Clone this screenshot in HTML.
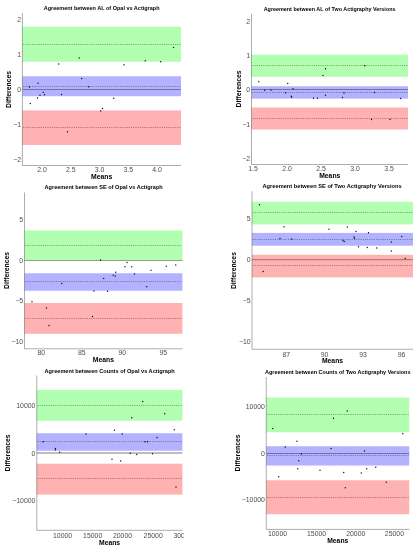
<!DOCTYPE html>
<html lang="en"><head><meta charset="utf-8"><title>Bland-Altman agreement plots</title>
<style>html,body{margin:0;padding:0;background:#fff}svg{display:block}text{font-family:"Liberation Sans",Arial,sans-serif}.t{font-weight:bold;fill:#000}.k{fill:#4d4d4d}</style></head><body>
<svg width="417" height="550" viewBox="0 0 417 550">
<rect width="417" height="550" fill="#fff"/>
<g id="plot1">
<rect x="22.4" y="26.75" width="158.6" height="35.0" fill="#b2ffb2"/>
<rect x="22.4" y="76.25" width="158.6" height="20.0" fill="#b2b2ff"/>
<rect x="22.4" y="110.4" width="158.6" height="34.599999999999994" fill="#ffb2b2"/>
<line x1="22.4" y1="89.5" x2="181" y2="89.5" stroke="#000" stroke-opacity="0.6" stroke-width="0.6"/>
<line x1="23.2" y1="44.5" x2="180.4" y2="44.5" stroke="#000" stroke-opacity="0.7" stroke-width="0.5" stroke-dasharray="1.1 1.1"/>
<line x1="23.2" y1="86.5" x2="180.4" y2="86.5" stroke="#000" stroke-opacity="0.7" stroke-width="0.5" stroke-dasharray="1.1 1.1"/>
<line x1="23.2" y1="127.5" x2="180.4" y2="127.5" stroke="#000" stroke-opacity="0.7" stroke-width="0.5" stroke-dasharray="1.1 1.1"/>
<path d="M22.4 13V165.5H181" fill="none" stroke="#333" stroke-opacity="0.8" stroke-width="0.5"/>
<circle cx="29.5" cy="87" r="0.65" fill="#000"/><circle cx="38" cy="83.25" r="0.65" fill="#000"/><circle cx="30.25" cy="103.5" r="0.65" fill="#000"/><circle cx="37.5" cy="98" r="0.65" fill="#000"/><circle cx="40" cy="95.25" r="0.65" fill="#000"/><circle cx="43.25" cy="92.25" r="0.65" fill="#000"/><circle cx="44.5" cy="94.75" r="0.65" fill="#000"/><circle cx="61.5" cy="94.5" r="0.65" fill="#000"/><circle cx="58.75" cy="64" r="0.65" fill="#000"/><circle cx="79.25" cy="58" r="0.65" fill="#000"/><circle cx="81.75" cy="78.5" r="0.65" fill="#000"/><circle cx="88.75" cy="86.75" r="0.65" fill="#000"/><circle cx="67.5" cy="131.75" r="0.65" fill="#000"/><circle cx="100.75" cy="111" r="0.65" fill="#000"/><circle cx="102.5" cy="108.5" r="0.65" fill="#000"/><circle cx="124" cy="64.75" r="0.65" fill="#000"/><circle cx="145.25" cy="60.75" r="0.65" fill="#000"/><circle cx="160.75" cy="61.75" r="0.65" fill="#000"/><circle cx="173.5" cy="47.5" r="0.65" fill="#000"/><circle cx="113.75" cy="98.25" r="0.65" fill="#000"/>
<text class="t" x="43.75" y="9.93" font-size="5.5" textLength="115.75" lengthAdjust="spacingAndGlyphs">Agreement between AL of Opal vs Actigraph</text>
<text class="k" x="21.099999999999998" y="22.48" font-size="6.9" text-anchor="end">2</text>
<text class="k" x="21.099999999999998" y="57.28" font-size="6.9" text-anchor="end">1</text>
<text class="k" x="21.099999999999998" y="92.08" font-size="6.9" text-anchor="end">0</text>
<text class="k" x="21.099999999999998" y="126.88" font-size="6.9" text-anchor="end">−1</text>
<text class="k" x="21.099999999999998" y="161.68" font-size="6.9" text-anchor="end">−2</text>
<text class="k" x="42" y="172.08" font-size="6.9" text-anchor="middle">2.0</text>
<text class="k" x="70.75" y="172.08" font-size="6.9" text-anchor="middle">2.5</text>
<text class="k" x="99.5" y="172.08" font-size="6.9" text-anchor="middle">3.0</text>
<text class="k" x="128.25" y="172.08" font-size="6.9" text-anchor="middle">3.5</text>
<text class="k" x="157" y="172.08" font-size="6.9" text-anchor="middle">4.0</text>
<text class="t" x="101.70" y="179.05" font-size="6.8" text-anchor="middle">Means</text>
<text class="t" transform="translate(11.15 89.5) rotate(-90)" font-size="6.8" text-anchor="middle">Differences</text>
</g>
<g id="plot2">
<rect x="251.5" y="54.6" width="156.5" height="22.199999999999996" fill="#b2ffb2"/>
<rect x="251.5" y="86.25" width="156.5" height="12.349999999999994" fill="#b2b2ff"/>
<rect x="251.5" y="107.5" width="156.5" height="22.0" fill="#ffb2b2"/>
<line x1="251.5" y1="89.5" x2="408" y2="89.5" stroke="#000" stroke-opacity="0.6" stroke-width="0.6"/>
<line x1="252.3" y1="65.5" x2="407.4" y2="65.5" stroke="#000" stroke-opacity="0.7" stroke-width="0.5" stroke-dasharray="1.1 1.1"/>
<line x1="252.3" y1="92.5" x2="407.4" y2="92.5" stroke="#000" stroke-opacity="0.7" stroke-width="0.5" stroke-dasharray="1.1 1.1"/>
<line x1="252.3" y1="118.5" x2="407.4" y2="118.5" stroke="#000" stroke-opacity="0.7" stroke-width="0.5" stroke-dasharray="1.1 1.1"/>
<path d="M251.5 13.75V164.5H408" fill="none" stroke="#333" stroke-opacity="0.8" stroke-width="0.5"/>
<circle cx="258.75" cy="81.75" r="0.65" fill="#000"/><circle cx="264.75" cy="90.25" r="0.65" fill="#000"/><circle cx="271" cy="90" r="0.65" fill="#000"/><circle cx="285.5" cy="92.75" r="0.65" fill="#000"/><circle cx="287.75" cy="83.5" r="0.65" fill="#000"/><circle cx="293" cy="88.75" r="0.65" fill="#000"/><circle cx="291.25" cy="96.25" r="0.65" fill="#000"/><circle cx="291.75" cy="97.25" r="0.65" fill="#000"/><circle cx="313.5" cy="98.25" r="0.65" fill="#000"/><circle cx="317.5" cy="98.25" r="0.65" fill="#000"/><circle cx="323" cy="75.5" r="0.65" fill="#000"/><circle cx="325.5" cy="68.75" r="0.65" fill="#000"/><circle cx="325.5" cy="95.25" r="0.65" fill="#000"/><circle cx="342.5" cy="97.5" r="0.65" fill="#000"/><circle cx="344" cy="93" r="0.65" fill="#000"/><circle cx="364.75" cy="65.75" r="0.65" fill="#000"/><circle cx="374.5" cy="92.5" r="0.65" fill="#000"/><circle cx="400.75" cy="98.5" r="0.65" fill="#000"/><circle cx="371.5" cy="119.5" r="0.65" fill="#000"/><circle cx="390" cy="119.5" r="0.65" fill="#000"/>
<text class="t" x="263.7" y="11.48" font-size="5.5" textLength="131.8" lengthAdjust="spacingAndGlyphs">Agreement between AL of Two Actigraphy Versions</text>
<text class="k" x="250.2" y="23.63" font-size="6.9" text-anchor="end">2</text>
<text class="k" x="250.2" y="57.93" font-size="6.9" text-anchor="end">1</text>
<text class="k" x="250.2" y="92.23" font-size="6.9" text-anchor="end">0</text>
<text class="k" x="250.2" y="126.53" font-size="6.9" text-anchor="end">−1</text>
<text class="k" x="250.2" y="160.83" font-size="6.9" text-anchor="end">−2</text>
<text class="k" x="253" y="170.68" font-size="6.9" text-anchor="middle">1.5</text>
<text class="k" x="287" y="170.68" font-size="6.9" text-anchor="middle">2.0</text>
<text class="k" x="321" y="170.68" font-size="6.9" text-anchor="middle">2.5</text>
<text class="k" x="355" y="170.68" font-size="6.9" text-anchor="middle">3.0</text>
<text class="k" x="389" y="170.68" font-size="6.9" text-anchor="middle">3.5</text>
<text class="t" x="329.75" y="178.10" font-size="6.8" text-anchor="middle">Means</text>
<text class="t" transform="translate(241.05 89) rotate(-90)" font-size="6.8" text-anchor="middle">Differences</text>
</g>
<g id="plot3">
<rect x="24.5" y="230.5" width="157.9" height="30.0" fill="#b2ffb2"/>
<rect x="24.5" y="273.25" width="157.9" height="17.5" fill="#b2b2ff"/>
<rect x="24.5" y="303" width="157.9" height="30.80000000000001" fill="#ffb2b2"/>
<line x1="24.5" y1="260.5" x2="182.4" y2="260.5" stroke="#000" stroke-opacity="0.6" stroke-width="0.6"/>
<line x1="25.3" y1="245.5" x2="181.8" y2="245.5" stroke="#000" stroke-opacity="0.7" stroke-width="0.5" stroke-dasharray="1.1 1.1"/>
<line x1="25.3" y1="281.5" x2="181.8" y2="281.5" stroke="#000" stroke-opacity="0.7" stroke-width="0.5" stroke-dasharray="1.1 1.1"/>
<line x1="25.3" y1="318.5" x2="181.8" y2="318.5" stroke="#000" stroke-opacity="0.7" stroke-width="0.5" stroke-dasharray="1.1 1.1"/>
<path d="M24.5 192.5V348.8H182.4" fill="none" stroke="#333" stroke-opacity="0.8" stroke-width="0.5"/>
<circle cx="32" cy="301.75" r="0.65" fill="#000"/><circle cx="46.5" cy="308" r="0.65" fill="#000"/><circle cx="49" cy="325.5" r="0.65" fill="#000"/><circle cx="61.75" cy="283.5" r="0.65" fill="#000"/><circle cx="92.5" cy="316.5" r="0.65" fill="#000"/><circle cx="94" cy="291" r="0.65" fill="#000"/><circle cx="103.75" cy="278.5" r="0.65" fill="#000"/><circle cx="100.5" cy="260" r="0.65" fill="#000"/><circle cx="127" cy="262.5" r="0.65" fill="#000"/><circle cx="125" cy="266.75" r="0.65" fill="#000"/><circle cx="131.75" cy="266.75" r="0.65" fill="#000"/><circle cx="115.75" cy="272.25" r="0.65" fill="#000"/><circle cx="113.25" cy="275.25" r="0.65" fill="#000"/><circle cx="115.25" cy="276" r="0.65" fill="#000"/><circle cx="134.5" cy="274" r="0.65" fill="#000"/><circle cx="151" cy="270.25" r="0.65" fill="#000"/><circle cx="166.25" cy="266.25" r="0.65" fill="#000"/><circle cx="175.75" cy="265" r="0.65" fill="#000"/><circle cx="146.75" cy="286.75" r="0.65" fill="#000"/><circle cx="107.5" cy="291.25" r="0.65" fill="#000"/>
<text class="t" x="44.5" y="189.48" font-size="5.5" textLength="118.25" lengthAdjust="spacingAndGlyphs">Agreement between SE of Opal vs Actigraph</text>
<text class="k" x="23.2" y="222.18" font-size="6.9" text-anchor="end">5</text>
<text class="k" x="23.2" y="262.78" font-size="6.9" text-anchor="end">0</text>
<text class="k" x="23.2" y="303.38" font-size="6.9" text-anchor="end">−5</text>
<text class="k" x="23.2" y="343.98" font-size="6.9" text-anchor="end">−10</text>
<text class="k" x="41.25" y="355.13" font-size="6.9" text-anchor="middle">80</text>
<text class="k" x="81.75" y="355.13" font-size="6.9" text-anchor="middle">85</text>
<text class="k" x="122.25" y="355.13" font-size="6.9" text-anchor="middle">90</text>
<text class="k" x="163.25" y="355.13" font-size="6.9" text-anchor="middle">95</text>
<text class="t" x="103.45" y="362.35" font-size="6.8" text-anchor="middle">Means</text>
<text class="t" transform="translate(9.35 270.4) rotate(-90)" font-size="6.8" text-anchor="middle">Differences</text>
</g>
<g id="plot4">
<rect x="252" y="201.75" width="161" height="22.650000000000006" fill="#b2ffb2"/>
<rect x="252" y="232.9" width="161" height="12.849999999999994" fill="#b2b2ff"/>
<rect x="252" y="254.8" width="161" height="22.599999999999966" fill="#ffb2b2"/>
<line x1="252" y1="259.6" x2="413" y2="259.6" stroke="#000" stroke-opacity="0.3" stroke-width="1.3"/>
<line x1="252.8" y1="212.5" x2="412.4" y2="212.5" stroke="#000" stroke-opacity="0.7" stroke-width="0.5" stroke-dasharray="1.1 1.1"/>
<line x1="252.8" y1="239.5" x2="412.4" y2="239.5" stroke="#000" stroke-opacity="0.7" stroke-width="0.5" stroke-dasharray="1.1 1.1"/>
<line x1="252.8" y1="265.5" x2="412.4" y2="265.5" stroke="#000" stroke-opacity="0.7" stroke-width="0.5" stroke-dasharray="1.1 1.1"/>
<path d="M252 191.25V349.25H413" fill="none" stroke="#333" stroke-opacity="0.8" stroke-width="0.5"/>
<circle cx="259.5" cy="204.75" r="0.65" fill="#000"/><circle cx="284" cy="226.75" r="0.65" fill="#000"/><circle cx="280" cy="238.5" r="0.65" fill="#000"/><circle cx="291.75" cy="239" r="0.65" fill="#000"/><circle cx="263.25" cy="271.5" r="0.65" fill="#000"/><circle cx="329" cy="229.25" r="0.65" fill="#000"/><circle cx="347.25" cy="227" r="0.65" fill="#000"/><circle cx="356" cy="231.5" r="0.65" fill="#000"/><circle cx="368.5" cy="232.75" r="0.65" fill="#000"/><circle cx="354" cy="237" r="0.65" fill="#000"/><circle cx="354.5" cy="238.25" r="0.65" fill="#000"/><circle cx="343" cy="240.5" r="0.65" fill="#000"/><circle cx="344.25" cy="241.5" r="0.65" fill="#000"/><circle cx="401.75" cy="236.5" r="0.65" fill="#000"/><circle cx="391.25" cy="242" r="0.65" fill="#000"/><circle cx="358.5" cy="246.75" r="0.65" fill="#000"/><circle cx="367.25" cy="247.5" r="0.65" fill="#000"/><circle cx="376.75" cy="248" r="0.65" fill="#000"/><circle cx="391.25" cy="251" r="0.65" fill="#000"/><circle cx="405.25" cy="258.5" r="0.65" fill="#000"/>
<text class="t" x="262.5" y="187.98" font-size="5.5" textLength="139.25" lengthAdjust="spacingAndGlyphs">Agreement between SE of Two Actigraphy Versions</text>
<text class="k" x="250.7" y="221.43" font-size="6.9" text-anchor="end">5</text>
<text class="k" x="250.7" y="262.43" font-size="6.9" text-anchor="end">0</text>
<text class="k" x="250.7" y="303.43" font-size="6.9" text-anchor="end">−5</text>
<text class="k" x="250.7" y="344.43" font-size="6.9" text-anchor="end">−10</text>
<text class="k" x="286.25" y="356.78" font-size="6.9" text-anchor="middle">87</text>
<text class="k" x="324.5" y="356.78" font-size="6.9" text-anchor="middle">90</text>
<text class="k" x="363" y="356.78" font-size="6.9" text-anchor="middle">93</text>
<text class="k" x="401.5" y="356.78" font-size="6.9" text-anchor="middle">96</text>
<text class="t" x="332.50" y="363.45" font-size="6.8" text-anchor="middle">Means</text>
<text class="t" transform="translate(236.20 270.6) rotate(-90)" font-size="6.8" text-anchor="middle">Differences</text>
</g>
<g id="plot5">
<rect x="36.75" y="389.9" width="145.65" height="30.850000000000023" fill="#b2ffb2"/>
<rect x="36.75" y="433.25" width="145.65" height="17.5" fill="#b2b2ff"/>
<rect x="36.75" y="463.7" width="145.65" height="30.900000000000034" fill="#ffb2b2"/>
<line x1="36.75" y1="453.0" x2="182.4" y2="453.0" stroke="#000" stroke-opacity="0.35" stroke-width="1.4"/>
<line x1="37.55" y1="405.5" x2="181.8" y2="405.5" stroke="#000" stroke-opacity="0.7" stroke-width="0.5" stroke-dasharray="1.1 1.1"/>
<line x1="37.55" y1="441.5" x2="181.8" y2="441.5" stroke="#000" stroke-opacity="0.7" stroke-width="0.5" stroke-dasharray="1.1 1.1"/>
<line x1="37.55" y1="478.5" x2="181.8" y2="478.5" stroke="#000" stroke-opacity="0.7" stroke-width="0.5" stroke-dasharray="1.1 1.1"/>
<path d="M36.75 375.5V530.3H182.4" fill="none" stroke="#333" stroke-opacity="0.8" stroke-width="0.5"/>
<circle cx="43.25" cy="441.75" r="0.65" fill="#000"/><circle cx="55.5" cy="448.5" r="0.65" fill="#000"/><circle cx="55.25" cy="450" r="0.65" fill="#000"/><circle cx="59.75" cy="452.25" r="0.65" fill="#000"/><circle cx="86" cy="434" r="0.65" fill="#000"/><circle cx="142.75" cy="401.5" r="0.65" fill="#000"/><circle cx="131.75" cy="417.75" r="0.65" fill="#000"/><circle cx="164.75" cy="413.75" r="0.65" fill="#000"/><circle cx="114.5" cy="430.25" r="0.65" fill="#000"/><circle cx="174.25" cy="429.75" r="0.65" fill="#000"/><circle cx="122.25" cy="434" r="0.65" fill="#000"/><circle cx="157" cy="437.5" r="0.65" fill="#000"/><circle cx="145" cy="441.75" r="0.65" fill="#000"/><circle cx="147.5" cy="441.75" r="0.65" fill="#000"/><circle cx="130.25" cy="453.25" r="0.65" fill="#000"/><circle cx="136.75" cy="454.5" r="0.65" fill="#000"/><circle cx="152.5" cy="453.75" r="0.65" fill="#000"/><circle cx="112" cy="459.25" r="0.65" fill="#000"/><circle cx="120.75" cy="461" r="0.65" fill="#000"/><circle cx="176" cy="487" r="0.65" fill="#000"/>
<text class="t" x="44.5" y="373.08" font-size="5.5" textLength="130.25" lengthAdjust="spacingAndGlyphs">Agreement between Counts of Opal vs Actigraph</text>
<text class="k" x="35.45" y="407.73" font-size="6.9" text-anchor="end">10000</text>
<text class="k" x="35.45" y="455.83" font-size="6.9" text-anchor="end">0</text>
<text class="k" x="35.45" y="502.93" font-size="6.9" text-anchor="end">−10000</text>
<clipPath id="c4"><rect x="0" y="0" width="183.75" height="550"/></clipPath><g clip-path="url(#c4)">
<text class="k" x="62.6" y="538.18" font-size="6.9" text-anchor="middle">10000</text>
<text class="k" x="92.7" y="538.18" font-size="6.9" text-anchor="middle">15000</text>
<text class="k" x="122.5" y="538.18" font-size="6.9" text-anchor="middle">20000</text>
<text class="k" x="153.2" y="538.18" font-size="6.9" text-anchor="middle">25000</text>
<text class="k" x="183.0" y="538.18" font-size="6.9" text-anchor="middle">30000</text>
</g>
<text class="t" x="109.58" y="544.65" font-size="6.8" text-anchor="middle">Means</text>
<text class="t" transform="translate(9.95 453) rotate(-90)" font-size="6.8" text-anchor="middle">Differences</text>
</g>
<g id="plot6">
<rect x="266.25" y="397.5" width="143.0" height="34.75" fill="#b2ffb2"/>
<rect x="266.25" y="446.25" width="143.0" height="19.25" fill="#b2b2ff"/>
<rect x="266.25" y="480.25" width="143.0" height="34.0" fill="#ffb2b2"/>
<line x1="266.25" y1="453.5" x2="409.25" y2="453.5" stroke="#000" stroke-opacity="0.6" stroke-width="0.6"/>
<line x1="267.05" y1="414.5" x2="408.65" y2="414.5" stroke="#000" stroke-opacity="0.7" stroke-width="0.5" stroke-dasharray="1.1 1.1"/>
<line x1="267.05" y1="455.5" x2="408.65" y2="455.5" stroke="#000" stroke-opacity="0.7" stroke-width="0.5" stroke-dasharray="1.1 1.1"/>
<line x1="267.05" y1="497.5" x2="408.65" y2="497.5" stroke="#000" stroke-opacity="0.7" stroke-width="0.5" stroke-dasharray="1.1 1.1"/>
<path d="M266.25 377V529.4H409.25" fill="none" stroke="#333" stroke-opacity="0.8" stroke-width="0.5"/>
<circle cx="272.75" cy="428.5" r="0.65" fill="#000"/><circle cx="297" cy="441.25" r="0.65" fill="#000"/><circle cx="285.25" cy="447" r="0.65" fill="#000"/><circle cx="301.25" cy="454" r="0.65" fill="#000"/><circle cx="298.75" cy="460.75" r="0.65" fill="#000"/><circle cx="297.75" cy="468.75" r="0.65" fill="#000"/><circle cx="320" cy="470.25" r="0.65" fill="#000"/><circle cx="278.75" cy="476.75" r="0.65" fill="#000"/><circle cx="347.25" cy="411" r="0.65" fill="#000"/><circle cx="333.5" cy="418.25" r="0.65" fill="#000"/><circle cx="402.75" cy="433.75" r="0.65" fill="#000"/><circle cx="331" cy="448.5" r="0.65" fill="#000"/><circle cx="364.5" cy="451" r="0.65" fill="#000"/><circle cx="343.75" cy="472.5" r="0.65" fill="#000"/><circle cx="361.25" cy="473" r="0.65" fill="#000"/><circle cx="366.75" cy="468.75" r="0.65" fill="#000"/><circle cx="375.75" cy="467.25" r="0.65" fill="#000"/><circle cx="386.25" cy="482.25" r="0.65" fill="#000"/><circle cx="345.25" cy="487.75" r="0.65" fill="#000"/>
<text class="t" x="265" y="373.98" font-size="5.5" textLength="145.5" lengthAdjust="spacingAndGlyphs">Agreement between Counts of Two Actigraphy Versions</text>
<text class="k" x="264.95" y="409.38" font-size="6.9" text-anchor="end">10000</text>
<text class="k" x="264.95" y="455.88" font-size="6.9" text-anchor="end">0</text>
<text class="k" x="264.95" y="502.38" font-size="6.9" text-anchor="end">−10000</text>
<text class="k" x="277.5" y="535.98" font-size="6.9" text-anchor="middle">10000</text>
<text class="k" x="316.6" y="535.98" font-size="6.9" text-anchor="middle">15000</text>
<text class="k" x="355.8" y="535.98" font-size="6.9" text-anchor="middle">20000</text>
<text class="k" x="394.4" y="535.98" font-size="6.9" text-anchor="middle">25000</text>
<text class="t" x="337.75" y="543.25" font-size="6.8" text-anchor="middle">Means</text>
<text class="t" transform="translate(239.95 453) rotate(-90)" font-size="6.8" text-anchor="middle">Differences</text>
</g>
</svg>
</body></html>
